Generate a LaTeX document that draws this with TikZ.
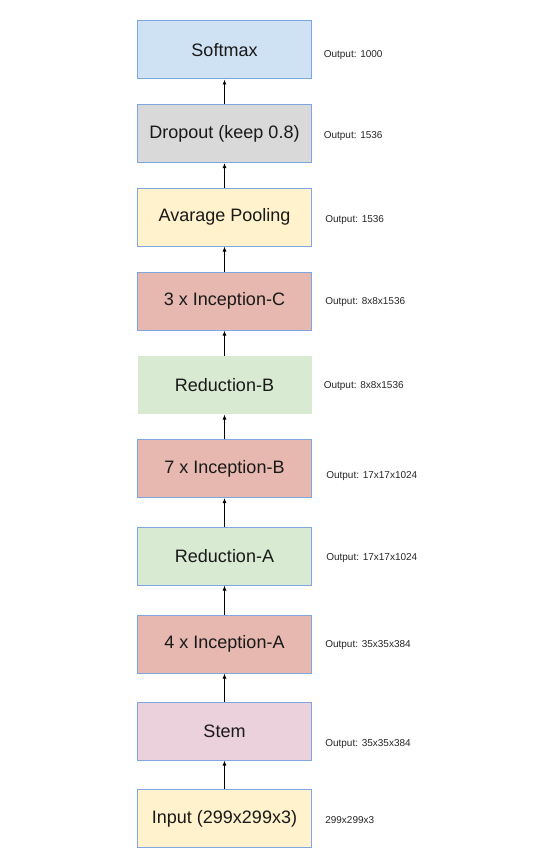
\documentclass[tikz,border=0pt]{standalone}
\usepackage{fontspec}
\setmainfont{Liberation Sans}
\usetikzlibrary{arrows.meta}
\definecolor{edgeblue}{HTML}{7EA6E0}
\definecolor{softblue}{HTML}{CFE2F3}
\definecolor{dropgray}{HTML}{D9D9D9}
\definecolor{paleyellow}{HTML}{FFF2CC}
\definecolor{incred}{HTML}{E6B8AF}
\definecolor{redgreen}{HTML}{D9EAD3}
\definecolor{stempink}{HTML}{EAD1DC}

\begin{document}
\begin{tikzpicture}[x=0.75pt,y=-0.75pt,
    layer/.style={draw=edgeblue, line width=0.75pt, minimum width=130.5pt, minimum height=43.5pt, inner sep=0pt, text=black!90, font=\fontsize{13.5}{16}\selectfont},
    outlabel/.style={anchor=west, inner sep=0pt, text=black!85, font=\fontsize{7.5}{9}\selectfont},
    flow/.style={-{Latex[length=3.75pt,width=3pt]}, line width=0.75pt}]
    \useasboundingbox (0,0) rectangle (538,856);
    \node [layer, fill=softblue] (softmax) at (224.5,50) {Softmax};
    \node [layer, fill=dropgray] (dropout) at (224.5,133.5) {Dropout (keep 0.8)};
    \node [layer, fill=paleyellow] (avgpool) at (224.5,217) {Avarage Pooling};
    \node [layer, fill=incred] (incC) at (224.5,301) {3 x Inception-C};
    \node [layer, draw=none, fill=redgreen] (redB) at (224.5,385) {Reduction-B};
    \node [layer, fill=incred] (incB) at (224.5,468.5) {7 x Inception-B};
    \node [layer, fill=redgreen] (redA) at (224.5,556) {Reduction-A};
    \node [layer, fill=incred] (incA) at (224.5,644) {4 x Inception-A};
    \node [layer, fill=stempink] (stem) at (224.5,731) {Stem};
    \node [layer, fill=paleyellow] (input) at (224.5,818.5) {Input (299x299x3)};
    \draw [flow] (dropout.north) -- (softmax.south);
    \draw [flow] (avgpool.north) -- (dropout.south);
    \draw [flow] (incC.north) -- (avgpool.south);
    \draw [flow] (redB.north) -- (incC.south);
    \draw [flow] (incB.north) -- (redB.south);
    \draw [flow] (redA.north) -- (incB.south);
    \draw [flow] (incA.north) -- (redA.south);
    \draw [flow] (stem.north) -- (incA.south);
    \draw [flow] (input.north) -- (stem.south);
    \node [outlabel] (outsoftmax) at (323.5,55.5) {Output: 1000};
    \node [outlabel] (outdropout) at (323.5,136) {Output: 1536};
    \node [outlabel] (outavgpool) at (325,220) {Output: 1536};
    \node [outlabel] (outincC) at (325,302.5) {Output: 8x8x1536};
    \node [outlabel] (outredB) at (323.5,386.5) {Output: 8x8x1536};
    \node [outlabel] (outincB) at (326,476.5) {Output: 17x17x1024};
    \node [outlabel] (outredA) at (326,558) {Output: 17x17x1024};
    \node [outlabel] (outincA) at (325,645) {Output: 35x35x384};
    \node [outlabel] (outstem) at (325,744.5) {Output: 35x35x384};
    \node [outlabel] (outinput) at (325,820) {299x299x3};
\end{tikzpicture}
\end{document}
